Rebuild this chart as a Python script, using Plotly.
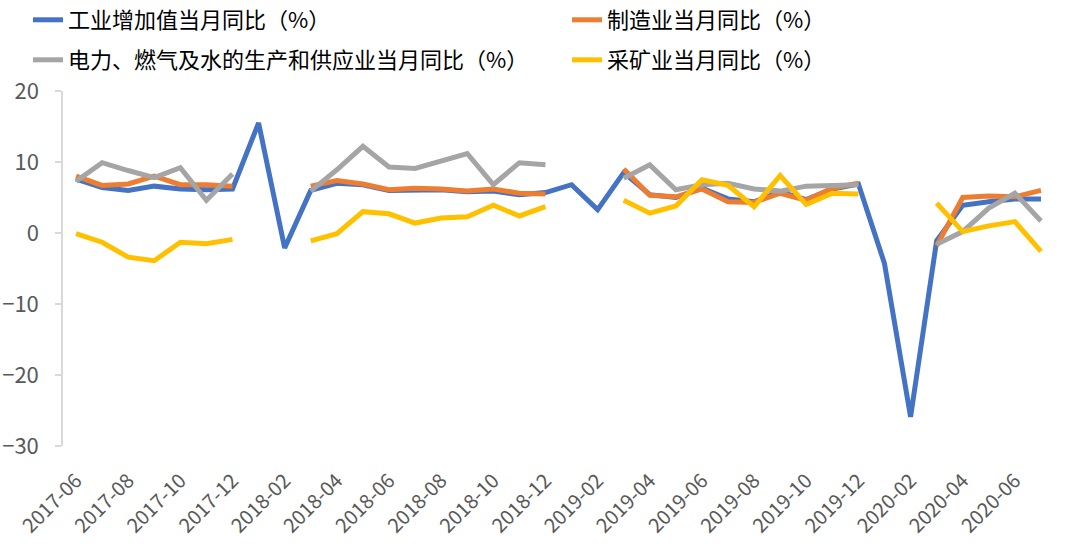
import plotly.graph_objects as go

months = ["2017-06","2017-07","2017-08","2017-09","2017-10","2017-11","2017-12",
          "2018-01","2018-02","2018-03","2018-04","2018-05","2018-06","2018-07","2018-08",
          "2018-09","2018-10","2018-11","2018-12",
          "2019-01","2019-02","2019-03","2019-04","2019-05","2019-06","2019-07","2019-08",
          "2019-09","2019-10","2019-11","2019-12",
          "2020-01","2020-02","2020-03","2020-04","2020-05","2020-06","2020-07"]

industry = [7.6, 6.4, 6.0, 6.6, 6.2, 6.1, 6.2,
            15.5, -2.1, 6.0, 7.0, 6.8, 6.0, 6.0, 6.1, 5.8, 5.9, 5.4, 5.7,
            6.8, 3.3, 8.5, 5.4, 5.0, 6.3, 4.8, 4.4, 5.8, 4.7, 6.2, 6.9,
            -4.3, -25.9, -1.1, 3.9, 4.4, 4.8, 4.8]

manufacturing = [8.0, 6.7, 6.9, 8.0, 6.8, 6.8, 6.6,
                 None, None, 6.6, 7.4, 6.9, 6.1, 6.3, 6.2, 5.9, 6.2, 5.6, 5.5,
                 None, None, 9.0, 5.3, 5.1, 6.2, 4.4, 4.3, 5.6, 4.6, 6.3, 7.0,
                 None, None, -1.8, 5.0, 5.2, 5.1, 6.0]

utilities = [7.3, 9.9, 8.8, 7.8, 9.2, 4.6, 8.3,
             None, None, 5.9, 8.9, 12.2, 9.3, 9.1, 10.1, 11.2, 6.8, 9.9, 9.6,
             None, None, 7.7, 9.6, 6.1, 6.8, 7.0, 6.2, 5.9, 6.6, 6.7, 6.8,
             None, None, -1.6, 0.2, 3.5, 5.6, 1.7]

mining = [-0.1, -1.3, -3.4, -3.9, -1.3, -1.5, -0.9,
          None, None, -1.1, -0.1, 3.0, 2.7, 1.4, 2.1, 2.3, 3.9, 2.4, 3.7,
          None, None, 4.6, 2.8, 3.8, 7.5, 6.7, 3.7, 8.1, 4.0, 5.6, 5.5,
          None, None, 4.2, 0.2, 1.0, 1.6, -2.6]

names = ["工业增加值当月同比（%）", "制造业当月同比（%）",
         "电力、燃气及水的生产和供应业当月同比（%）", "采矿业当月同比（%）"]
colors = ["#4472C4", "#ED7D31", "#A5A5A5", "#FFC000"]
series = [industry, manufacturing, utilities, mining]
legend_ids = ["legend", "legend2", "legend3", "legend4"]

FONT = "Noto Sans CJK SC"
fig = go.Figure()
for name, col, vals, lg in zip(names, colors, series, legend_ids):
    fig.add_trace(go.Scatter(x=months, y=vals, mode="lines", name=name,
                             line=dict(color=col, width=5, shape="linear"),
                             connectgaps=False, legend=lg, showlegend=True))

n = len(months)
grid = "#D9D9D9"
tick_color = "#595959"

def leg(x, y):
    return dict(orientation="h", xref="container", yref="container",
                x=x, y=y, xanchor="left", yanchor="middle",
                font=dict(family=FONT, size=22, color="#000000"),
                bgcolor="rgba(0,0,0,0)", itemwidth=30, visible=True)

fig.update_layout(
    width=1080, height=557,
    showlegend=True,
    margin=dict(l=63, r=26, t=91, b=111, autoexpand=False),
    paper_bgcolor="white", plot_bgcolor="white",
    font=dict(family=FONT),
    legend=leg(28/1080, 1 - 20/557),
    legend2=leg(567/1080, 1 - 20/557),
    legend3=leg(28/1080, 1 - 60/557),
    legend4=leg(567/1080, 1 - 60/557),
    xaxis=dict(type="category", categoryorder="array", categoryarray=months,
               range=[-0.5, n - 0.5], tickmode="array", tickvals=months[::2],
               ticktext=months[::2], tickangle=-45, ticks="", showline=False,
               showgrid=False, zeroline=False, ticklabelstandoff=18,
               tickfont=dict(family=FONT, size=20, color=tick_color)),
    xaxis2=dict(overlaying="x", anchor="free", position=30/50, type="linear",
                range=[-0.5, n - 0.5], tick0=-0.5, dtick=2, ticks="outside",
                ticklen=7, tickwidth=1.5, tickcolor=grid, showticklabels=False,
                showline=True, linecolor=grid, linewidth=1.5, showgrid=False,
                zeroline=False),
    yaxis=dict(range=[-30, 20], tickvals=[-30, -20, -10, 0, 10, 20],
               ticks="outside", ticklen=6, tickwidth=1.5, tickcolor=grid,
               showline=True, linecolor=grid, linewidth=1.5,
               showgrid=False, zeroline=False, ticklabelstandoff=12,
               tickfont=dict(family=FONT, size=22, color=tick_color)),
)

fig.write_html("out.html")
